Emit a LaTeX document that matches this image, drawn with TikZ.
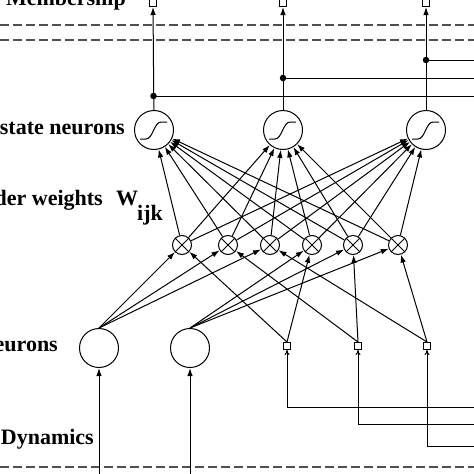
\documentclass[tikz,border=0pt]{standalone}
\usepackage{fontspec}
\setmainfont{Liberation Serif}
\usetikzlibrary{arrows.meta}
\definecolor{dashgray}{HTML}{505050}
\begin{document}
\begin{tikzpicture}[x=1pt,y=-1pt,
  neuron/.style={circle,draw,line width=1pt,minimum size=39pt,inner sep=0pt},
  prod/.style={circle,draw,line width=1pt,minimum size=19pt,inner sep=0pt},
  sq/.style={rectangle,draw,fill=white,line width=1pt,minimum size=7pt,inner sep=0pt},
  dot/.style={circle,fill=black,minimum size=6.5pt,inner sep=0pt},
  conn/.style={line width=1pt,-{Latex[length=8pt,width=5.5pt]}},
  plain/.style={line width=1pt},
  openarr/.style={line width=1pt,-{To[length=5pt,width=5pt]}},
  dashline/.style={draw=dashgray,line width=1.2pt,dash pattern=on 9pt off 4pt},
  lbl/.style={inner sep=0pt,font=\fontsize{22pt}{22pt}\selectfont\bfseries}
]
\useasboundingbox (0,0) rectangle (474,474);
\fill[white] (0,0) rectangle (474,474);
\clip (0,0) rectangle (474,474);

% dashed separators
\coordinate (dl1) at (0,25);  \coordinate (dr1) at (474,25);
\coordinate (dl2) at (0,40);  \coordinate (dr2) at (474,40);
\coordinate (dl3) at (0,467); \coordinate (dr3) at (474,467);
\draw[dashline] (dl1) -- (dr1);
\draw[dashline] (dl2) -- (dr2);
\draw[dashline] (dl3) -- (dr3);

% state neurons
\node[neuron] (S1) at (154,130) {};
\node[neuron] (S2) at (283,130) {};
\node[neuron] (S3) at (426,130) {};
\foreach \s in {S1,S2,S3}{
  \draw[plain] ([shift={(-14,9)}]\s.center) -- ([shift={(-8,9)}]\s.center)
    .. controls ([shift={(-1,9)}]\s.center) and ([shift={(0,-8)}]\s.center) .. ([shift={(7,-8)}]\s.center)
    -- ([shift={(13,-8)}]\s.center);
}

% top output squares
\node[sq] (T1) at (153,3) {};
\node[sq] (T2) at (283,3) {};
\node[sq] (T3) at (426,3) {};
\draw[conn] (S1) -- (T1);
\draw[conn] (S2) -- (T2);
\draw[conn] (S3) -- (T3);

% feedback taps
\node[dot] (D1) at (153.5,96) {};
\node[dot] (D2) at (283,78) {};
\node[dot] (D3) at (426,60) {};
\coordinate (E1) at (474,96);
\coordinate (E2) at (474,78);
\coordinate (E3) at (474,60);
\draw[plain] (D1.center) -- (E1);
\draw[plain] (D2.center) -- (E2);
\draw[plain] (D3.center) -- (E3);

% product nodes
\node[prod] (P1) at (182,245) {};
\node[prod] (P2) at (228,245) {};
\node[prod] (P3) at (270,245) {};
\node[prod] (P4) at (312,245) {};
\node[prod] (P5) at (353,245) {};
\node[prod] (P6) at (398,245) {};
\foreach \p in {P1,P2,P3,P4,P5,P6}{
  \draw[plain] (\p.north west) -- (\p.south east) (\p.north east) -- (\p.south west);
  \foreach \s in {S1,S2,S3}{
    \draw[conn] (\p) -- (\s);
  }
}

% input neurons and state-input squares
\node[neuron] (I1) at (99,348) {};
\node[neuron] (I2) at (190,348) {};
\node[sq] (Q1) at (287,346) {};
\node[sq] (Q2) at (358,346) {};
\node[sq] (Q3) at (427,346) {};

\foreach \p in {P1,P2,P3}{ \draw[conn] (I1.north) -- (\p); }
\foreach \p in {P4,P5,P6}{ \draw[conn] (I2.north) -- (\p); }
\draw[conn] (Q1.north) -- (P1);
\draw[conn] (Q1.north) -- (P4);
\draw[conn] (Q2.north) -- (P2);
\draw[conn] (Q2.north) -- (P5);
\draw[conn] (Q3.north) -- (P3);
\draw[conn] (Q3.north) -- (P6);

% inputs from below
\coordinate (B1) at (99,474);
\coordinate (B2) at (190,474);
\draw[conn] (B1) -- (I1);
\draw[conn] (B2) -- (I2);

% feedback into squares
\coordinate (R1) at (474,407);
\coordinate (R2) at (474,424);
\coordinate (R3) at (474,446);
\draw[openarr] (R1) -| (Q1);
\draw[openarr] (R2) -| (Q2);
\draw[openarr] (R3) -| (Q3);

% labels
\node[lbl,anchor=base east] (tM) at (126,5) {, Membership};
\node[lbl,anchor=base east] (tS) at (125,134) {state neurons};
\node[lbl,anchor=base east] (tW) at (103,205) {der weights};
\node[lbl,anchor=base west] (tW2) at (116,205) {W};
\node[lbl,anchor=base west] (tijk) at (137,220) {ijk};
\node[lbl,anchor=base east] (tE) at (58,351) {eurons};
\node[lbl,anchor=base east] (tD) at (94,444) {Dynamics};
\end{tikzpicture}
\end{document}
